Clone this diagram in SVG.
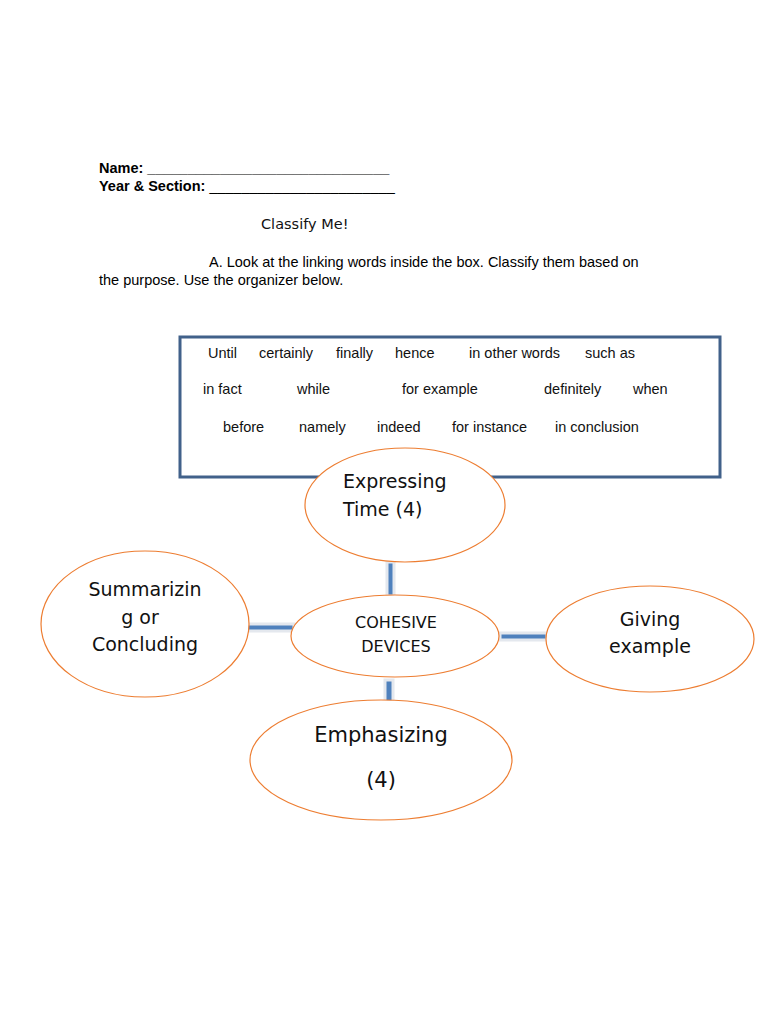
<svg xmlns="http://www.w3.org/2000/svg" width="768" height="1024" viewBox="0 0 768 1024">
<style>
.t{font-family:"Liberation Sans",Arial,sans-serif;font-size:14.5px;fill:#000}
.w{font-family:"Liberation Sans",Arial,sans-serif;font-size:14.5px;fill:#111}
.d{font-family:"DejaVu Sans",sans-serif;fill:#111}
.e{fill:#fff;stroke:#ed7d31;stroke-width:1.2}
.c{fill:#4f81bd;stroke:#e4e8ee;stroke-width:3}
</style>
<rect width="768" height="1024" fill="#fff"/>
<text class="t" x="99" y="173" font-weight="bold">Name:  ______________________________</text>
<text class="t" x="99" y="191" font-weight="bold">Year &amp; Section: <tspan font-weight="normal">_______________________</tspan></text>
<text class="d" x="261" y="229" font-size="14.5">Classify Me!</text>
<text class="t" x="209" y="267">A. Look at the linking words inside the box. Classify them based on</text>
<text class="t" x="99" y="285">the purpose. Use the organizer below.</text>
<g id="wordbox">
<rect x="180" y="337" width="540" height="140" fill="#fff" stroke="#41618a" stroke-width="3"/>
<text class="w" x="208" y="358">Until</text><text class="w" x="259" y="358">certainly</text><text class="w" x="336" y="358">finally</text><text class="w" x="395" y="358">hence</text><text class="w" x="469" y="358">in other words</text><text class="w" x="585" y="358">such as</text>
<text class="w" x="203" y="394">in fact</text><text class="w" x="297" y="394">while</text><text class="w" x="402" y="394">for example</text><text class="w" x="544" y="394">definitely</text><text class="w" x="633" y="394">when</text>
<text class="w" x="223" y="432">before</text><text class="w" x="299" y="432">namely</text><text class="w" x="377" y="432">indeed</text><text class="w" x="452" y="432">for instance</text><text class="w" x="555" y="432">in conclusion</text>
</g>
<g id="connectors">
<rect class="c" x="387" y="562" width="7" height="34"/>
<rect class="c" x="246" y="624" width="48" height="7"/>
<rect class="c" x="500" y="633" width="47" height="7"/>
<rect class="c" x="385" y="680" width="8" height="38"/>
</g>
<g id="time"><ellipse class="e" cx="405" cy="505" rx="100" ry="57"/>
<text class="d" font-size="19" x="343" y="488">Expressing</text><text class="d" font-size="19" x="343" y="516">Time   (4)</text></g>
<g id="center"><ellipse class="e" cx="395" cy="636" rx="104" ry="41"/>
<text class="d" font-size="16" text-anchor="middle" x="396" y="628">COHESIVE</text><text class="d" font-size="16" text-anchor="middle" x="396" y="652">DEVICES</text></g>
<g id="summ"><ellipse class="e" cx="145" cy="624" rx="104" ry="73"/>
<text class="d" font-size="19" text-anchor="middle" x="145" y="596">Summarizin</text><text class="d" font-size="19" text-anchor="middle" x="140" y="624">g or</text><text class="d" font-size="19" text-anchor="middle" x="145" y="651">Concluding</text></g>
<g id="giving"><ellipse class="e" cx="650" cy="639" rx="104" ry="53"/>
<text class="d" font-size="19" text-anchor="middle" x="650" y="626">Giving</text><text class="d" font-size="19" text-anchor="middle" x="650" y="653">example</text></g>
<g id="emph"><ellipse class="e" cx="381" cy="760" rx="131" ry="60"/>
<text class="d" font-size="21" text-anchor="middle" x="381" y="742">Emphasizing</text><text class="d" font-size="21" text-anchor="middle" x="381" y="787">(4)</text></g>
</svg>
